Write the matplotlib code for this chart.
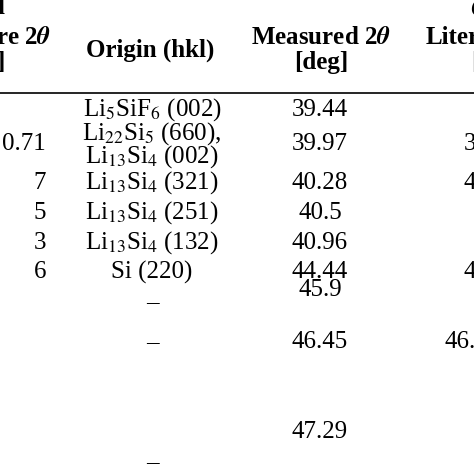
import matplotlib
matplotlib.use("Agg")
import matplotlib.pyplot as plt

plt.rcParams['font.family'] = ['Liberation Serif', 'DejaVu Serif']
plt.rcParams['mathtext.fontset'] = 'stix'

origins = [r"Li$_5$SiF$_6$ (002)", r"Li$_{22}$Si$_5$ (660),", r"Li$_{13}$Si$_4$ (002)",
           r"Li$_{13}$Si$_4$ (321)", r"Li$_{13}$Si$_4$ (251)", r"Li$_{13}$Si$_4$ (132)",
           "Si (220)", "–", "–", "–"]
origin_y = [110, 134, 157, 183, 213, 243, 272, 302, 342, 462]
measured = ["39.44", "39.97", "40.28", "40.5", "40.96", "44.44", "45.9", "46.45", "47.29"]
measured_y = [110, 144, 183, 213, 243, 272, 290, 342, 432]
lit_left = ["0.71", "7", "5", "3", "6"]
lit_left_y = [144, 183, 213, 243, 272]
lit_right = ["3", "4", "4", "46."]
lit_right_y = [144, 183, 272, 342]

W = H = 474
fig = plt.figure(figsize=(4.74, 4.74), dpi=100)
fig.patch.set_facecolor('white')

def t(x, y, s, ha='center', fs=18, **kw):
    fig.text(x / W, 1 - y / H, s, ha=ha, va='center', fontsize=fs, **kw)

t(-3, 8, "l", ha='left', fontweight='bold')
t(470, 10, "C", ha='left', fontweight='bold', fontstyle='italic')
t(-4, 38, r"re 2$\boldsymbol{\theta}$", ha='left', fontweight='bold')
t(-4, 62, "]", ha='left', fontweight='bold')
t(150, 50, "Origin (hkl)", fontweight='bold')
t(321, 38, r"Measured 2$\boldsymbol{\theta}$", fontweight='bold')
t(321, 62, "[deg]", fontweight='bold')
t(426, 38, "Liter", ha='left', fontweight='bold')
t(471, 62, "[", ha='left', fontweight='bold')

fig.add_artist(plt.Line2D([0, 1], [1 - 93 / H] * 2, color='black', lw=1.2))

for s, y in zip(origins, origin_y):
    t(152, y, s)
for s, y in zip(measured, measured_y):
    t(320, y, s)
for s, y in zip(lit_left, lit_left_y):
    t(46, y, s, ha='right')
for s, y in zip(lit_right, lit_right_y):
    t(476, y, s, ha='right')

fig.savefig("out.png", dpi=100, facecolor='white')
